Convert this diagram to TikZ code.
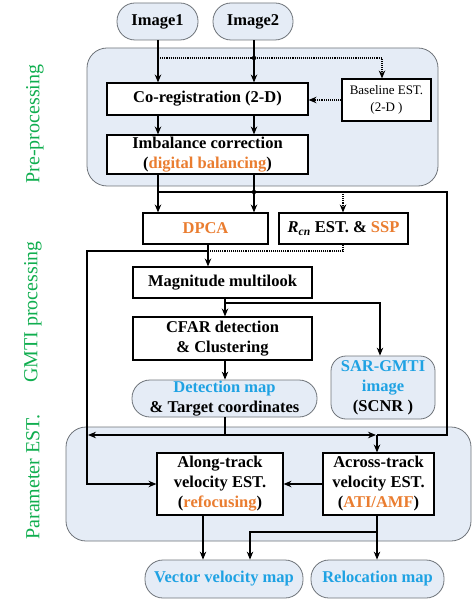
\documentclass[tikz,border=0pt]{standalone}
\usepackage{fontspec}
\setmainfont{Liberation Serif}
\usetikzlibrary{arrows.meta,positioning}

\definecolor{panelfill}{HTML}{E5ECF6}
\definecolor{panelline}{HTML}{6E7379}
\definecolor{orangetxt}{HTML}{EA7D30}
\definecolor{bluetxt}{HTML}{1FA2E3}
\definecolor{greentxt}{HTML}{10AE4F}

\begin{document}
\begin{tikzpicture}[x=1pt,y=-1pt,>={Stealth[length=8pt,width=6.5pt]},line width=1.1pt,
    font=\fontsize{16.5}{20}\selectfont\bfseries]
            \tikzstyle{panel}=[draw=panelline,line width=0.8pt,fill=panelfill,rounded corners=20pt]
            \tikzstyle{proc}=[draw=black,fill=white,align=center,inner sep=0pt]
            \tikzstyle{io}=[draw=panelline,line width=0.8pt,fill=panelfill,align=center,rounded corners=18pt,inner sep=0pt]
            \tikzstyle{stage}=[rotate=90,font=\fontsize{20}{22}\selectfont,text=greentxt]
            \tikzstyle{dot}=[circle,fill=black,inner sep=0pt,minimum size=4.5pt]
            \tikzstyle{dots}=[densely dotted,line width=1.1pt]
            \useasboundingbox (0,0) rectangle (474,601);

            % panels
            \draw[panel] (87,48) rectangle (438,186);
            \draw[panel] (66,427) rectangle (471,541);
            \node[stage] (lpre)   at (35,124) {Pre-processing};
            \node[stage] (lgmti)  at (33,312) {GMTI processing};
            \node[stage] (lparam) at (33,477) {Parameter EST.};

            % inputs
            \node[io,minimum width=81pt,minimum height=37pt] (img1) at (157.5,21.5) {Image1};
            \node[io,minimum width=80pt,minimum height=37pt] (img2) at (253,21.5) {Image2};

            % pre-processing
            \node[proc,minimum width=201pt,minimum height=32pt] (coreg) at (207.5,99) {Co-registration (2-D)};
            \node[proc,minimum width=89pt,minimum height=42pt,font=\fontsize{13}{17}\selectfont] (base) at (386.5,100) {Baseline EST.\\(2-D )};
            \node[proc,minimum width=201pt,minimum height=39pt] (imbal) at (207.5,154.5) {Imbalance correction\\(\textcolor{orangetxt}{digital balancing})};

            % GMTI processing
            \node[proc,minimum width=125pt,minimum height=31pt] (dpca) at (205.5,228.5) {\textcolor{orangetxt}{DPCA}};
            \node[proc,minimum width=129pt,minimum height=31pt] (rcn) at (343.5,228.5) {\textit{R}\textsubscript{\textit{cn}} EST. \& \textcolor{orangetxt}{SSP}};
            \node[proc,minimum width=179pt,minimum height=31pt] (mag) at (222.5,282.5) {Magnitude multilook};
            \node[proc,minimum width=179pt,minimum height=43pt] (cfar) at (222.5,338.5) {CFAR detection\\\& Clustering};
            \node[io,minimum width=185pt,minimum height=37pt] (det) at (224.5,398.5) {\textcolor{bluetxt}{Detection map}\\\& Target coordinates};
            \node[io,rounded corners=15pt,minimum width=104pt,minimum height=63pt] (sar) at (383,387.5) {\textcolor{bluetxt}{SAR-GMTI}\\\textcolor{bluetxt}{image}\\(SCNR )};

            % parameter estimation
            \node[proc,minimum width=126pt,minimum height=62pt] (along) at (220,484) {Along-track\\velocity EST.\\(\textcolor{orangetxt}{refocusing})};
            \node[proc,minimum width=111pt,minimum height=62pt] (across) at (378.5,484) {Across-track\\velocity EST.\\(\textcolor{orangetxt}{ATI/AMF})};

            % outputs
            \node[io,minimum width=158pt,minimum height=38pt] (vec) at (224,579) {\textcolor{bluetxt}{Vector velocity map}};
            \node[io,minimum width=133pt,minimum height=38pt] (reloc) at (377.5,579) {\textcolor{bluetxt}{Relocation map}};

            % junctions
            \coordinate (j1) at (254,58);
            \coordinate (j2) at (254,192);
            \coordinate (j3) at (208,251);
            \coordinate (j4) at (225,303);
            \coordinate (j5) at (225,435);
            \coordinate (j6) at (377,532);

            % connectors
            \draw[->] (img1.south -| 158,0) -- (158,0 |- coreg.north);
            \draw[->] (img2.south -| j1) -- (j1 |- coreg.north);
            \draw[dots,->] (158,58) -- (382,58) -- (382,0 |- base.north);
            \draw[dots,->] (base.west) -- (coreg.east |- base.west);
            \draw[->] (coreg.south -| 158,0) -- (158,0 |- imbal.north);
            \draw[->] (coreg.south -| j1) -- (j1 |- imbal.north);
            \draw[->] (imbal.south -| 158,0) -- (158,0 |- dpca.north);
            \draw[->] (imbal.south -| j2) -- (j2 |- dpca.north);
            \draw (158,192) -- (447,192) -- (447,435) -- (377,435);
            \draw[dots,->] (343,192) -- (343,0 |- rcn.north);
            \draw (dpca.south -| j3) -- (j3);
            \draw[->] (j3) -- (j3 |- mag.north);
            \draw[dots] (rcn.south -| 343,0) -- (343,251) -- (j3);
            \draw[->] (j3) -- (87,251) -- (87,0 |- along.west) -- (along.west);
            \draw[->] (mag.south -| j4) -- (j4 |- cfar.north);
            \draw[->] (j4) -- (380,303) -- (380,0 |- sar.north);
            \draw[->] (cfar.south -| j4) -- (j4 |- det.north);
            \draw (det.south -| j5) -- (j5);
            \draw[->] (j5) -- (88,435);
            \draw[->] (j5) -- (376,435);
            \draw[->] (377,435) -- (377,0 |- across.north);
            \draw[->] (across.west) -- (along.east |- across.west);
            \draw[->] (along.south -| 203,0) -- (203,0 |- vec.north);
            \draw[->] (across.south -| j6) -- (j6 |- reloc.north);
            \draw[->] (j6) -- (250,532) -- (250,0 |- vec.north);
            \node[dot] at (j1) {};
            \node[dot] at (j2) {};
        \end{tikzpicture}
\end{document}
